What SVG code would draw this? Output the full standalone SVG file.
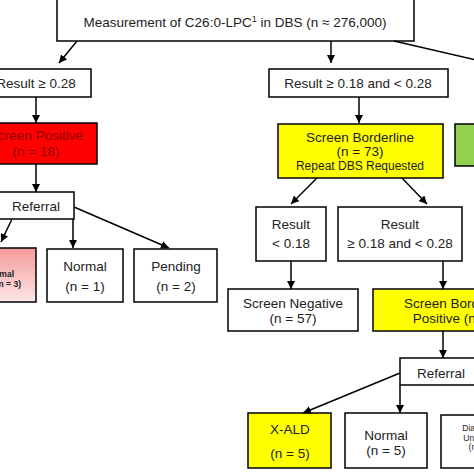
<svg xmlns="http://www.w3.org/2000/svg" width="474" height="474" viewBox="0 0 474 474">
<defs>
<marker id="ah" viewBox="0 0 10 10" refX="10" refY="5" markerWidth="8" markerHeight="8" markerUnits="userSpaceOnUse" orient="auto">
<path d="M0,0 L10,5 L0,10 Z" fill="#000"/>
</marker>
<linearGradient id="pink" x1="0" y1="0" x2="0" y2="1">
<stop offset="0" stop-color="#F59A9A"/>
<stop offset="1" stop-color="#FDE6E6"/>
</linearGradient>
<style>
.b{stroke:#000;stroke-width:1.5;fill:#fff}
.red{fill:#FF0000}
.yel{fill:#FFFF00}
.grn{fill:#92D050}
.pk{fill:url(#pink)}
text{font-family:"Liberation Sans",Arial,sans-serif;font-size:13.5px;fill:#222;text-anchor:middle}
.dr{fill:#8B0000}
.sm{font-size:12px}
.xs{font-size:8.5px;font-weight:bold;text-anchor:end}
.ds{font-size:8.5px}
.c line{stroke:#000;stroke-width:1.5;marker-end:url(#ah)}
.c line.n{marker-end:none}
</style>
</defs>
<rect width="474" height="474" fill="#fff"/>

<g id="top">
<rect class="b" x="57" y="-5" width="357" height="46"/>
<text x="235" y="27" font-size="14.5" textLength="303" lengthAdjust="spacingAndGlyphs">Measurement of C26:0-LPC<tspan font-size="9" dy="-5">1</tspan><tspan dy="5"> in DBS (n ≈ 276,000)</tspan></text>
</g>

<g id="res028">
<rect class="b" x="-20" y="69" width="111" height="28"/>
<text x="36" y="88">Result ≥ 0.28</text>
</g>

<g id="screenpos">
<rect class="b red" x="-25" y="123" width="122" height="41"/>
<text class="dr" x="36" y="140">Screen Positive</text>
<text class="dr" x="36" y="156">(n = 18)</text>
</g>

<g id="referral1">
<rect class="b" x="-2" y="192" width="76" height="27"/>
<text x="36" y="211">Referral</text>
</g>

<g id="abnormal">
<rect class="b pk" x="-50" y="248" width="86" height="54"/>
<text class="xs" x="14" y="277">Abnormal</text>
<text class="xs" x="21" y="287">(n = 3)</text>
</g>

<g id="normal1">
<rect class="b" x="47" y="249" width="76" height="53"/>
<text x="85" y="271">Normal</text>
<text x="85" y="291">(n = 1)</text>
</g>

<g id="pending">
<rect class="b" x="134" y="249" width="83" height="53"/>
<text x="176" y="271">Pending</text>
<text x="176" y="291">(n = 2)</text>
</g>

<g id="res018">
<rect class="b" x="269" y="69" width="179" height="28"/>
<text x="358" y="88">Result ≥ 0.18 and &lt; 0.28</text>
</g>

<g id="borderline">
<rect class="b yel" x="278" y="124" width="165" height="54"/>
<text x="360" y="142">Screen Borderline</text>
<text x="360" y="156">(n = 73)</text>
<text class="sm" x="360" y="170">Repeat DBS Requested</text>
</g>

<g id="green">
<rect class="b grn" x="455" y="124" width="60" height="42"/>
</g>

<g id="reslt018">
<rect class="b" x="256" y="207" width="70" height="54"/>
<text x="291" y="229">Result</text>
<text x="291" y="248">&lt; 0.18</text>
</g>

<g id="res018b">
<rect class="b" x="338" y="207" width="124" height="54"/>
<text x="400" y="229">Result</text>
<text x="400" y="248">≥ 0.18 and &lt; 0.28</text>
</g>

<g id="screenneg">
<rect class="b" x="228" y="289" width="130" height="42"/>
<text x="293" y="308">Screen Negative</text>
<text x="293" y="323">(n = 57)</text>
</g>

<g id="borderpos">
<rect class="b yel" x="373" y="289" width="168" height="42"/>
<text x="458" y="308">Screen Borderline</text>
<text x="458" y="323">Positive (n = 9)</text>
</g>

<g id="referral2">
<rect class="b" x="400" y="358" width="82" height="27"/>
<text x="441" y="378">Referral</text>
</g>

<g id="xald">
<rect class="b yel" x="248" y="413" width="83" height="55"/>
<text x="290" y="434">X-ALD</text>
<text x="290" y="458">(n = 5)</text>
</g>

<g id="normal2">
<rect class="b" x="345" y="413" width="82" height="55"/>
<text x="386" y="440">Normal</text>
<text x="386" y="455">(n = 5)</text>
</g>

<g id="unknown">
<rect class="b" x="441" y="415" width="84" height="53"/>
<text class="ds" x="481" y="431">Diagnosis</text>
<text class="ds" x="481" y="440.5">Unknown</text>
<text class="ds" x="481" y="450">(n = 3)</text>
</g>

<g id="connectors" class="c">
<line x1="77" y1="41" x2="59" y2="63"/>
<line x1="331" y1="41" x2="331" y2="63"/>
<line class="n" x1="394" y1="41" x2="480" y2="61"/>
<line x1="36" y1="97" x2="36" y2="123"/>
<line x1="359" y1="97" x2="359" y2="123"/>
<line x1="36" y1="164" x2="36" y2="192"/>
<line x1="12" y1="219" x2="1" y2="242"/>
<line x1="73" y1="219" x2="73" y2="248"/>
<line x1="74" y1="207" x2="169" y2="248"/>
<line x1="317" y1="178" x2="291" y2="204"/>
<line x1="402" y1="178" x2="427" y2="204"/>
<line x1="291" y1="261" x2="291" y2="289"/>
<line x1="443" y1="261" x2="443" y2="289"/>
<line x1="443" y1="331" x2="443" y2="358"/>
<line x1="400" y1="373" x2="303" y2="413"/>
<line x1="400" y1="385" x2="400" y2="413"/>
</g>
</svg>
